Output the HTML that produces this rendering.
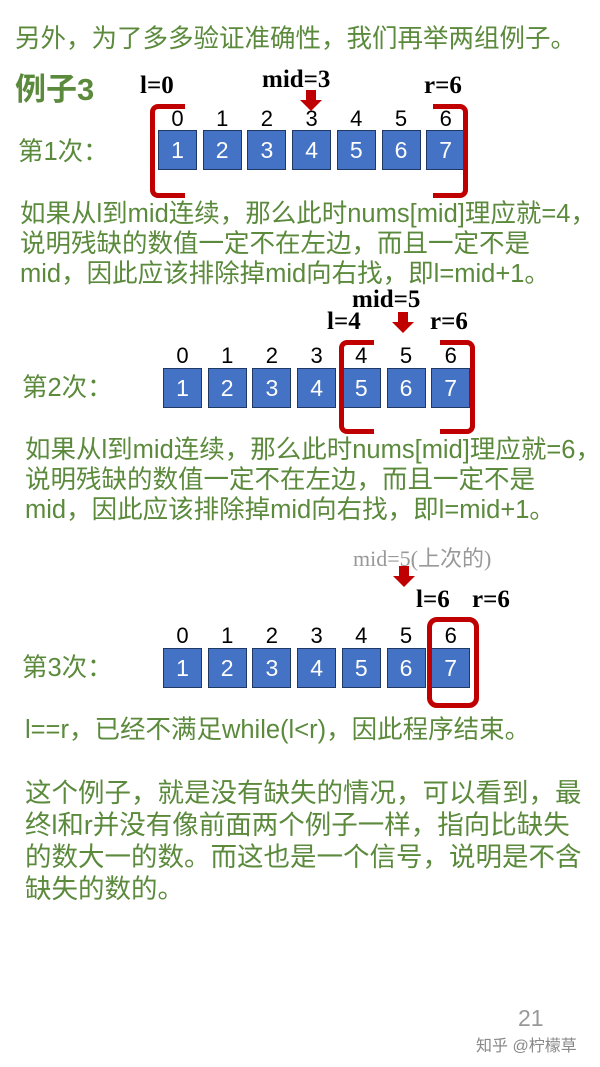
<!DOCTYPE html>
<html><head><meta charset="utf-8"><style>
body{margin:0;width:600px;height:1067px;background:#fff;position:relative;overflow:hidden;font-family:"Liberation Sans","Noto Sans CJK SC",sans-serif}
.t{position:absolute;color:#5b8a3c;font-size:25.5px;line-height:30px;white-space:nowrap}
.b{position:absolute;width:37px;height:38px;background:#4472c4;border:1px solid #1f3864;color:#fff;font-size:23px;text-align:center;line-height:38px}
.i{position:absolute;font-size:22px;color:#000;width:39px;text-align:center}
.s{position:absolute;font-family:"Liberation Serif",serif;font-weight:bold;font-size:25px;color:#000}
.br{position:absolute;border:5px solid #c00000}
</style></head><body>
<div class="t" style="left:15px;top:24px;font-size:25.5px">另外，为了多多验证准确性，我们再举两组例子。</div>
<div class="t" style="left:15px;top:70px;font-size:31px;font-weight:bold;line-height:40px">例子3</div>
<div class="s" style="left:140px;top:72px">l=0</div>
<div class="s" style="left:262px;top:66px">mid=3</div>
<div class="s" style="left:424px;top:72px">r=6</div>
<div class="t" style="left:18px;top:137px">第1次：</div>
<div class="t" style="left:20px;top:199px">如果从l到mid连续，那么此时nums[mid]理应就=4，<br>说明残缺的数值一定不在左边，而且一定不是<br>mid，因此应该排除掉mid向右找，即l=mid+1。</div>
<div class="s" style="left:352px;top:286px">mid=5</div>
<div class="s" style="left:327px;top:308px">l=4</div>
<div class="s" style="left:430px;top:308px">r=6</div>
<div class="t" style="left:22px;top:373px">第2次：</div>
<div class="t" style="left:25px;top:435px">如果从l到mid连续，那么此时nums[mid]理应就=6，<br>说明残缺的数值一定不在左边，而且一定不是<br>mid，因此应该排除掉mid向右找，即l=mid+1。</div>
<div class="s" style="left:353px;top:541px;font-weight:normal;color:#999;font-size:22px">mid=5(<span style="font-family:'Noto Sans CJK SC',sans-serif">上次的</span>)</div>
<div class="s" style="left:416px;top:586px">l=6</div>
<div class="s" style="left:472px;top:586px">r=6</div>
<div class="t" style="left:22px;top:653px">第3次：</div>
<div class="t" style="left:25px;top:715px">l==r，已经不满足while(l&lt;r)，因此程序结束。</div>
<div class="t" style="left:25px;top:777px;line-height:32px;font-size:26.5px">这个例子，就是没有缺失的情况，可以看到，最<br>终l和r并没有像前面两个例子一样，指向比缺失<br>的数大一的数。而这也是一个信号，说明是不含<br>缺失的数的。</div>
<div style="position:absolute;left:518px;top:1005px;color:#999;font-size:23px">21</div>
<div style="position:absolute;left:476px;top:1032px;color:#888;font-size:16px">知乎 @柠檬草</div>
<div id="rows"></div>
<div class="br" style="left:150px;top:104px;width:30px;height:84px;border-right:none;border-radius:8px 0 0 8px"></div>
<div class="br" style="left:433px;top:104px;width:30px;height:84px;border-left:none;border-radius:0 8px 8px 0"></div>
<div class="br" style="left:339px;top:340px;width:30px;height:84px;border-right:none;border-radius:8px 0 0 8px"></div>
<div class="br" style="left:440px;top:340px;width:30px;height:84px;border-left:none;border-radius:0 8px 8px 0"></div>
<div class="br" style="left:427px;top:617px;width:42px;height:81px;border-radius:10px"></div>
<svg style="position:absolute;left:0;top:0" width="600" height="1067">
<polygon fill="#c00000" points="306,90 316,90 316,100 322,100 311,111 300,100 306,100"/>
<polygon fill="#c00000" points="398,312 408,312 408,322 414,322 403,333 392,322 398,322"/>
<polygon fill="#c00000" points="399,566 409,566 409,576 415,576 404,587 393,576 399,576"/>
</svg>
<script>
var rows=[[158,130,106],[163,368,343],[163,648,623]];var h='';
rows.forEach(function(r){for(var k=0;k<7;k++){var x=r[0]+k*44.7;
h+='<div class="b" style="left:'+x+'px;top:'+r[1]+'px">'+(k+1)+'</div>';
h+='<div class="i" style="left:'+x+'px;top:'+r[2]+'px">'+k+'</div>';}});
document.getElementById('rows').innerHTML=h;
</script>
</body></html>
